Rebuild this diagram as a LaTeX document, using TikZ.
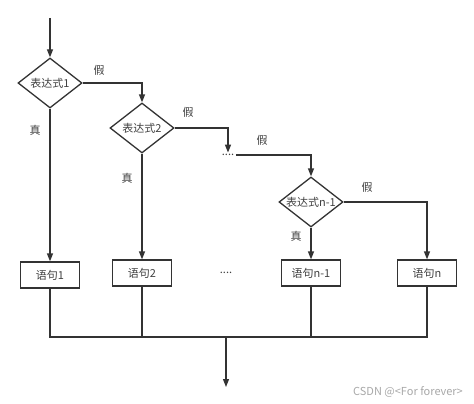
\documentclass[tikz,border=0pt]{standalone}
\usepackage{fontspec}
\newfontfamily\cjk{Noto Sans CJK SC}
\usetikzlibrary{shapes.geometric,arrows.meta}
\definecolor{linegray}{HTML}{333333}
\definecolor{textgray}{HTML}{404040}
\definecolor{markgray}{HTML}{A8A8A8}
\begin{document}
\begin{tikzpicture}[x=1pt,y=-1pt,line width=1.3pt,
  lbl/.style={text=textgray,font=\cjk\fontsize{11}{13}\selectfont,inner sep=1pt},
  cond/.style={diamond,draw=linegray,minimum width=64pt,minimum height=50pt,inner sep=0pt},
  stmt/.style={rectangle,draw=linegray,minimum width=59pt,minimum height=26pt,lbl},
  arr/.style={draw=linegray,-{Triangle[length=8pt,width=6pt]}},
  wire/.style={draw=linegray}]
\useasboundingbox (0,0) rectangle (474,404);
% conditions
\node[cond,label={[lbl]center:表达式1}] (c1) at (50,83) {};
\node[cond,label={[lbl]center:表达式2}] (c2) at (142,128) {};
\node[cond,label={[lbl]center:表达式n-1}] (cn) at (311,202) {};
% statements
\node[stmt] (s1) at (50,275) {语句1};
\node[stmt] (s2) at (142,273) {语句2};
\node[lbl] (dots2) at (226,273) {....};
\node[stmt] (sn1) at (311,273) {语句n-1};
\node[stmt] (sn) at (427,273) {语句n};
\node[lbl] (dots1) at (228,155) {....};
\coordinate (top) at (50,18);
\coordinate (join) at (226,337);
\coordinate (out) at (226,387);
% arrows
\draw[arr] (top) -- (c1.north);
\draw[arr] (c1.east) -| (c2.north);
\draw[arr] (c2.east) -| (dots1.north);
\draw[arr] (dots1.east) -| (cn.north);
\draw[arr] (cn.east) -| (sn.north);
\draw[arr] (c1.south) -- (s1.north);
\draw[arr] (c2.south) -- (s2.north);
\draw[arr] (cn.south) -- (sn1.north);
\draw[wire] (s1.south) |- (join) -| (sn.south);
\draw[wire] (s2.south) -- (s2.south |- join);
\draw[wire] (sn1.south) -- (sn1.south |- join);
\draw[arr] (join) -- (out);
% labels
\node[lbl] (f1) at (99,70) {假};
\node[lbl] (f2) at (188,112) {假};
\node[lbl] (f3) at (262,140) {假};
\node[lbl] (f4) at (367,187) {假};
\node[lbl] (t1) at (35,130) {真};
\node[lbl] (t2) at (127,178) {真};
\node[lbl] (t3) at (296,236) {真};
\node[text=markgray,font=\cjk\fontsize{11}{13}\selectfont] (mark) at (408,392) {CSDN @<For forever>};
\end{tikzpicture}
\end{document}
